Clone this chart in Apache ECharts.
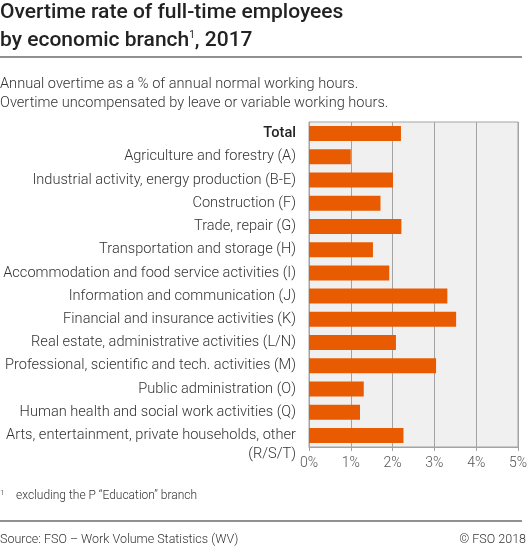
<!DOCTYPE html>
<html>
<head>
<meta charset="utf-8">
<script src="https://cdn.jsdelivr.net/npm/echarts@6/dist/echarts.min.js"></script>
<style>
  html, body { margin: 0; padding: 0; background: #fff; }
  #chart { width: 527px; height: 546px; }
</style>
</head>
<body>
<div id="chart"></div>
<script>
// ==============================
// data
// ==============================
const branches = [
  'Total',
  'Agriculture and forestry (A)',
  'Industrial activity, energy production (B-E)',
  'Construction (F)',
  'Trade, repair (G)',
  'Transportation and storage (H)',
  'Accommodation and food service activities (I)',
  'Information and communication (J)',
  'Financial and insurance activities (K)',
  'Real estate, administrative activities (L/N)',
  'Professional, scientific and tech. activities (M)',
  'Public administration (O)',
  'Human health and social work activities (Q)',
  '\nArts, entertainment, private households, other\n(R/S/T)'
];
const overtimeRate = [2.20, 1.00, 2.01, 1.71, 2.21, 1.53, 1.92, 3.31, 3.52, 2.08, 3.04, 1.31, 1.22, 2.26];
const tickValues = [0, 1, 2, 3, 4, 5];

const FONT = 'Roboto';
const barColor = '#e95b00';
const gridColor = '#a3a3a3';

const chart = echarts.init(document.getElementById('chart'));

chart.setOption({
  animation: false,
  textStyle: { fontFamily: FONT },
  grid: {
    left: 309,
    right: 9,
    top: 122,
    bottom: 99,
    outerBoundsMode: 'none',
    show: true,
    backgroundColor: '#f0f0f0',
    borderColor: gridColor,
    borderWidth: 1
  },
  xAxis: {
    type: 'value',
    min: tickValues[0],
    max: tickValues[tickValues.length - 1],
    interval: 1,
    axisLine: { show: true, lineStyle: { color: gridColor } },
    axisTick: { show: true, length: 4, lineStyle: { color: gridColor } },
    splitLine: { show: true, lineStyle: { color: gridColor, width: 1 } },
    axisLabel: {
      formatter: '{value}%',
      color: '#555',
      fontSize: 14,
      fontWeight: 300,
      fontFamily: FONT,
      margin: 9
    }
  },
  yAxis: {
    type: 'category',
    inverse: true,
    data: branches.map((b, i) => i === 0
      ? { value: b, textStyle: { fontWeight: 500, color: '#222' } }
      : b),
    axisLine: { show: true, lineStyle: { color: gridColor } },
    axisTick: { show: false },
    axisLabel: {
      color: '#333',
      fontSize: 14.6,
      fontWeight: 300,
      lineHeight: 19,
      fontFamily: FONT,
      align: 'right',
      margin: 13,
      interval: 0
    }
  },
  series: [{
    type: 'bar',
    data: overtimeRate,
    barWidth: 15,
    itemStyle: { color: barColor },
    silent: true
  }],
  graphic: [
    {
      type: 'text', left: 0, top: 2,
      style: {
        text: 'Overtime rate of full-time employees',
        font: '500 21px Roboto', fill: '#222'
      }
    },
    {
      type: 'text', left: 0, top: 30,
      style: {
        text: '{t|by economic branch}{s|1}{t|, 2017}',
        fill: '#222',
        rich: {
          t: { font: '500 21px Roboto', fill: '#222', verticalAlign: 'bottom' },
          s: { font: '400 10px Roboto', fill: '#222', verticalAlign: 'top', padding: [0, 0, 8, 0] }
        }
      }
    },
    {
      type: 'line', shape: { x1: 0, y1: 57, x2: 522, y2: 57 },
      style: { stroke: '#222', lineWidth: 1 }
    },
    {
      type: 'text', left: 0, top: 75,
      style: {
        text: 'Annual overtime as a % of annual normal working hours.\nOvertime uncompensated by leave or variable working hours.',
        font: '300 14.6px Roboto', fill: '#333', lineHeight: 19
      }
    },
    {
      type: 'text', left: 0, top: 489,
      style: { text: '1', font: '300 8px Roboto', fill: '#333' }
    },
    {
      type: 'text', left: 16, top: 490,
      style: { text: 'excluding the P \u201cEducation\u201d branch', font: '300 12px Roboto', fill: '#333' }
    },
    {
      type: 'line', shape: { x1: 0, y1: 521, x2: 522, y2: 521 },
      style: { stroke: '#222', lineWidth: 1 }
    },
    {
      type: 'text', left: 0, top: 533,
      style: { text: 'Source: FSO \u2013 Work Volume Statistics (WV)', font: '300 12.5px Roboto', fill: '#333' }
    },
    {
      type: 'text', right: 1, top: 533,
      style: { text: '\u00a9 FSO 2018', font: '300 12.5px Roboto', fill: '#333' }
    }
  ]
});
</script>
</body>
</html>
